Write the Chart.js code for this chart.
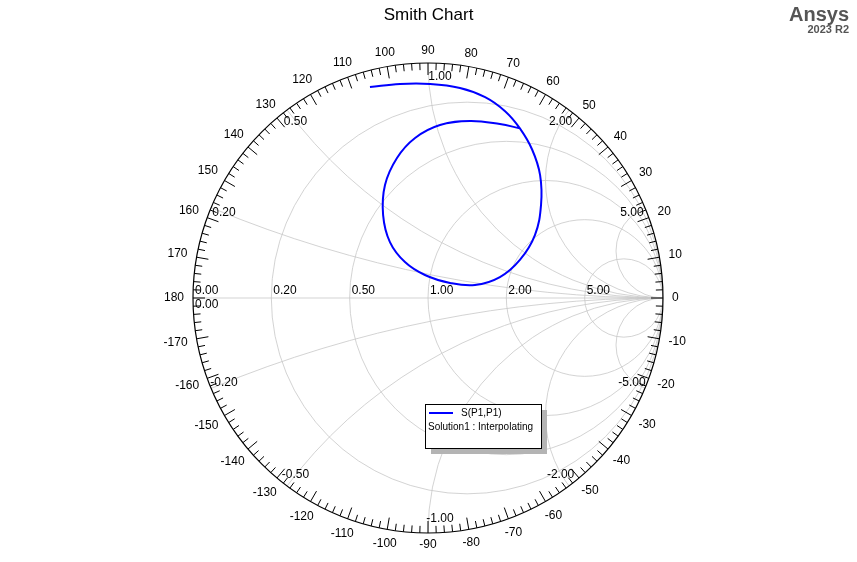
<!DOCTYPE html>
<html><head><meta charset="utf-8">
<script src="https://cdn.jsdelivr.net/npm/chart.js@4.4.0/dist/chart.umd.min.js"></script>
<style>
body{margin:0;background:#fff;font-family:"Liberation Sans",Arial,sans-serif}
#wrap{position:relative;width:857px;height:562px}
#title{position:absolute;top:5px;left:0;width:857px;text-align:center;font-size:17px;color:#000}
#logo{position:absolute;top:4px;right:8px;text-align:right;color:#555;font-weight:bold;line-height:1}
#logo .a{font-size:20px}#logo .b{font-size:11px}
</style></head><body>
<div id="wrap"><canvas id="c" width="857" height="562"></canvas>
<div id="title">Smith Chart</div>
<div id="logo"><div class="a">Ansys</div><div class="b">2023 R2</div></div></div>
<script>
// S(P1,P1) (re, im)
const gammaRe = [-0.247,-0.119,0.009,0.136,0.243,0.328,0.391,0.443,0.477,0.481,0.455,0.391,0.306,0.200,0.094,-0.013,-0.098,-0.162,-0.191,-0.183,-0.132,-0.055,0.051,0.179,0.306,0.391];
const gammaIm = [0.898,0.911,0.911,0.894,0.855,0.795,0.722,0.632,0.523,0.396,0.268,0.162,0.089,0.055,0.064,0.098,0.153,0.238,0.353,0.481,0.596,0.681,0.736,0.753,0.740,0.722];
const rCircles = [0.2,0.5,1,2,5];
const xArcs = [0.2,0.5,1,2,5];
const rLabels = ['0.00','0.20','0.50','1.00','2.00','5.00'];
const rLabelVals = [0,0.2,0.5,1,2,5];

const smith = {
  id:'smith',
  beforeDatasetsDraw(chart){
    const {ctx, scales:{x,y}} = chart;
    const cx = x.getPixelForValue(0), cy = y.getPixelForValue(0);
    const R = x.getPixelForValue(1) - cx;
    ctx.save();
    ctx.beginPath(); ctx.arc(cx,cy,R,0,2*Math.PI); ctx.clip();
    ctx.strokeStyle='#c8c8c8'; ctx.lineWidth=0.8;
    rCircles.forEach(r=>{
      const c=r/(1+r), rad=1/(1+r);
      ctx.beginPath(); ctx.arc(cx+c*R,cy,rad*R,0,2*Math.PI); ctx.stroke();
    });
    xArcs.forEach(v=>{
      [1,-1].forEach(s=>{
        ctx.beginPath(); ctx.arc(cx+R,cy-s*R/v,R/v,0,2*Math.PI); ctx.stroke();
      });
    });
    ctx.beginPath(); ctx.moveTo(cx-R,cy); ctx.lineTo(cx+R,cy); ctx.stroke();
    ctx.restore();
    // outer circle and inward ticks
    ctx.save();
    ctx.strokeStyle='#000'; ctx.lineWidth=1.2;
    ctx.beginPath(); ctx.arc(cx,cy,R,0,2*Math.PI); ctx.stroke();
    ctx.lineWidth=1;
    for(let a=-180;a<180;a+=2){
      const t=a*Math.PI/180, L = a%10===0?12:7;
      ctx.beginPath();
      ctx.moveTo(cx+R*Math.cos(t),cy-R*Math.sin(t));
      ctx.lineTo(cx+(R-L)*Math.cos(t),cy-(R-L)*Math.sin(t)); ctx.stroke();
    }
    ctx.fillStyle='#000'; ctx.font='12px "Liberation Sans", Arial';
    ctx.textAlign='center'; ctx.textBaseline='middle';
    for(let a=-170;a<=180;a+=10){
      const t=a*Math.PI/180, s=String(a);
      const w=ctx.measureText(s).width;
      const D=R+9+Math.abs(Math.cos(t))*w/2+Math.abs(Math.sin(t))*3;
      ctx.fillText(s,cx+D*Math.cos(t),cy-D*Math.sin(t));
    }
    // resistance labels
    ctx.textAlign='left'; ctx.textBaseline='bottom';
    rLabelVals.forEach((r,i)=>{
      const px=cx+((r-1)/(r+1))*R;
      ctx.fillText(rLabels[i],px+2,cy-1);
    });
    ctx.textBaseline='top'; ctx.fillText('0.00',cx-R+2,cy+1);
    // reactance labels near the unit circle
    ctx.textAlign='center'; ctx.textBaseline='middle';
    xArcs.forEach(v=>{
      [1,-1].forEach(s=>{
        const gr=(v*v-1)/(v*v+1), gi=s*2*v/(v*v+1);
        const txt=(s<0?'-':'')+v.toFixed(2);
        ctx.fillText(txt,cx+gr*(R-14)+(v===1?12:0),cy-gi*(R-14));
      });
    });
    // legend
    const lx=425, ly=404;
    ctx.fillStyle='#b4b4b4'; ctx.fillRect(lx+6,ly+6,116,44);
    ctx.fillStyle='#fff'; ctx.fillRect(lx,ly,116,44);
    ctx.strokeStyle='#000'; ctx.strokeRect(lx+0.5,ly+0.5,116,44);
    ctx.strokeStyle='#0000ff'; ctx.lineWidth=2;
    ctx.beginPath(); ctx.moveTo(lx+4,ly+9); ctx.lineTo(lx+28,ly+9); ctx.stroke();
    ctx.fillStyle='#000'; ctx.font='10px "Liberation Sans", Arial'; ctx.textAlign='left';
    ctx.fillText('S(P1,P1)',lx+36,ly+9);
    ctx.fillText('Solution1 : Interpolating',lx+3,ly+23);
    ctx.restore();
  }
};

new Chart(document.getElementById('c'),{
  type:'scatter',
  data:{datasets:[{label:'S(P1,P1)',data:gammaRe.map((v,i)=>({x:v,y:gammaIm[i]})),
    showLine:true,borderColor:'#0000ff',borderWidth:2,pointRadius:0,tension:0.4,fill:false}]},
  options:{responsive:false,animation:false,
    layout:{padding:{left:193,right:194,top:63,bottom:29}},
    plugins:{legend:{display:false},tooltip:{enabled:false}},
    scales:{x:{min:-1,max:1,display:false},y:{min:-1,max:1,display:false}}},
  plugins:[smith]
});
</script></body></html>
